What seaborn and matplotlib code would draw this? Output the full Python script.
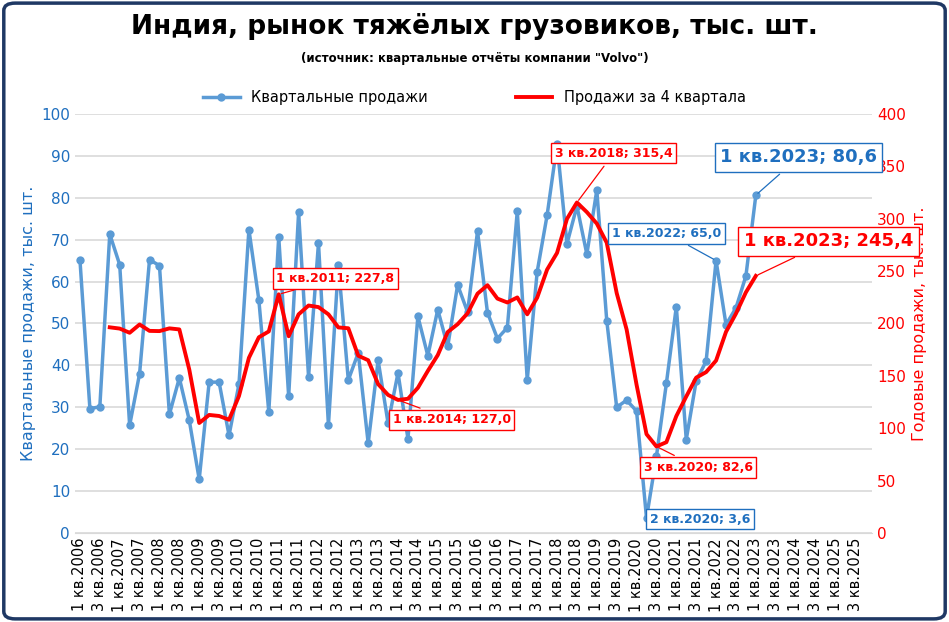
import matplotlib
matplotlib.use("Agg")
import matplotlib.pyplot as plt
import seaborn as sns
import pandas as pd
from matplotlib.patches import FancyBboxPatch

quarterly = [65.2, 29.7, 30.1, 71.3, 64.0, 25.7, 38.0, 65.2, 63.8, 28.3, 37.0, 26.9,
             12.8, 36.0, 36.0, 23.3, 35.5, 72.4, 55.6, 28.9, 70.7, 32.6, 76.5, 37.3,
             69.2, 25.7, 64.0, 36.5, 43.0, 21.4, 41.2, 26.2, 38.2, 22.5, 51.7, 42.3,
             53.3, 44.5, 59.2, 52.7, 72.0, 52.6, 46.4, 49.0, 76.8, 36.5, 62.3, 75.8,
             92.7, 69.0, 78.0, 66.5, 81.8, 50.7, 30.0, 31.7, 29.1, 3.6, 18.3, 35.7,
             54.0, 22.3, 36.3, 41.0, 65.0, 49.7, 53.7, 61.3, 80.6]
annual = [None, None, None, 196.3, 195.1, 191.1, 199.0, 192.9, 192.7, 195.3, 194.3, 156.0,
          105.0, 112.7, 111.7, 108.1, 130.8, 167.2, 186.8, 192.4, 227.8, 187.8, 208.7, 217.1,
          215.6, 208.7, 196.2, 195.4, 169.2, 164.9, 142.1, 131.8, 127.0, 128.1, 138.6, 154.7,
          169.8, 191.8, 199.3, 209.7, 228.4, 236.5, 223.7, 220.0, 224.8, 208.7, 224.6, 251.4,
          267.3, 299.8, 315.4, 306.2, 295.3, 277.0, 229.0, 194.2, 141.5, 94.4, 82.6, 86.7,
          111.6, 130.3, 148.3, 153.6, 164.6, 192.0, 209.4, 229.7, 245.4]
years = list(range(2006, 2026))
quarter_labels = [f"{q} кв.{y}" for y in years for q in (1, 2, 3, 4)]

BLUE = "#5B9BD5"
DBLUE = "#1F6FBF"
RED = "#FF0000"

df = pd.DataFrame({"x": range(len(quarterly)), "q": quarterly,
                   "a": [float("nan") if v is None else v for v in annual]})

fig = plt.figure(figsize=(9.49, 6.22), dpi=100)
fig.patches.append(FancyBboxPatch((0.004, 0.005), 0.992, 0.99, boxstyle="round,pad=0,rounding_size=0.012",
                                  transform=fig.transFigure, fill=False, edgecolor="#1F3864", linewidth=2.5))
ax = fig.add_axes([0.079, 0.143, 0.84, 0.674])
ax2 = ax.twinx()

sns.lineplot(data=df, x="x", y="q", ax=ax, color=BLUE, linewidth=2.5, marker="o",
             markersize=6, markeredgewidth=0, label="Квартальные продажи", legend=False)
sns.lineplot(data=df, x="x", y="a", ax=ax2, color=RED, linewidth=2.8, label="Продажи за 4 квартала", legend=False)

ax.set_xlim(-0.5, 79.7)
ax.set_ylim(0, 100)
ax2.set_ylim(0, 400)
ax.set_yticks(range(0, 101, 10))
ax2.set_yticks(range(0, 401, 50))
ax.set_xticks(range(0, 80, 2))
ax.set_xticklabels(quarter_labels[::2], rotation=90, fontsize=10.5)
ax.grid(axis="y", color="#D9D9D9", linewidth=1.2)
ax.set_axisbelow(True)
for a in (ax, ax2):
    for s in a.spines.values():
        s.set_visible(False)
    a.tick_params(length=0)
ax.spines["bottom"].set_visible(True)
ax.spines["bottom"].set_color("#D9D9D9")
ax.tick_params(axis="y", colors=DBLUE, labelsize=11)
ax2.tick_params(axis="y", colors=RED, labelsize=11)
ax.set_xlabel("")
ax.set_ylabel("Квартальные продажи, тыс. шт.", color=DBLUE, fontsize=11.5)
ax2.set_ylabel("Годовые продажи, тыс. шт.", color=RED, fontsize=11.5)

fig.text(0.5, 0.945, "Индия, рынок тяжёлых грузовиков, тыс. шт.", ha="center", fontsize=19, fontweight="bold")
fig.text(0.5, 0.9, '(источник: квартальные отчёты компании "Volvo")', ha="center", fontsize=8.5, fontweight="bold")

h1, l1 = ax.get_legend_handles_labels()
h2, l2 = ax2.get_legend_handles_labels()
fig.legend(h1 + h2, l1 + l2, loc="center", bbox_to_anchor=(0.5, 0.843), ncol=2, frameon=False,
           fontsize=10.5, columnspacing=6, handlelength=2.5)

def note(axis, xi, yv, text, dx, dy, color, size=9, weight="bold"):
    t = axis.annotate(text, xy=(xi, yv), xytext=(xi + dx, yv + dy), textcoords="data",
                      fontsize=size, fontweight=weight, color=color, ha="center", va="center",
                      bbox=dict(boxstyle="square,pad=0.3", fc="white", ec=color, lw=1),
                      arrowprops=dict(arrowstyle="-", color=color, lw=0.9), zorder=20,
                      annotation_clip=False)
    t.set_clip_on(False)

note(ax2, 20, 227.8, "1 кв.2011; 227,8", 5.7, 15, RED)
note(ax2, 32, 127.0, "1 кв.2014; 127,0", 5.4, -19, RED)
note(ax2, 50, 315.4, "3 кв.2018; 315,4", 3.7, 47, RED)
note(ax2, 58, 82.6, "3 кв.2020; 82,6", 4.2, -20, RED)
note(ax2, 68, 245.4, "1 кв.2023; 245,4", 7.3, 33, RED, size=13)
note(ax2, 57, 3.6 * 4, "2 кв.2020; 3,6", 5.4, -1, DBLUE)
note(ax2, 64, 65.0 * 4, "1 кв.2022; 65,0", -5, 26, DBLUE)
note(ax2, 68, 80.6 * 4, "1 кв.2023; 80,6", 4.3, 36, DBLUE, size=13)

fig.savefig("out.png", dpi=100)
